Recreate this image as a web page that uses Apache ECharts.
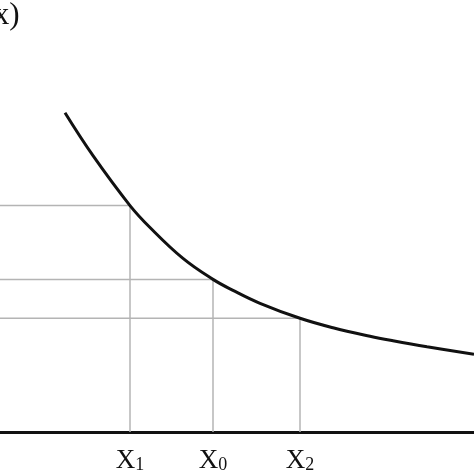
<!DOCTYPE html>
<html>
<head>
<meta charset="utf-8">
<script src="https://cdn.jsdelivr.net/npm/echarts@6/dist/echarts.min.js"></script>
<style>html,body{margin:0;padding:0;background:#fff;}#c{width:474px;height:474px;}</style>
</head>
<body>
<div id="c"></div>
<script>
const curveX = [65, 93, 130, 150, 183, 213, 233, 260, 300, 333, 370, 393, 427, 474];
const curveY = [320, 277, 227, 205, 174, 153, 142, 129, 114, 104.5, 96, 91.5, 85.5, 78];
const markX = [130, 213, 300];
const markY = [227, 153, 114];
const markSub = ['1', '0', '2'];
const axisTitle = 'f(x)';

const chart = echarts.init(document.getElementById('c'), null, {renderer: 'canvas'});
const subOf = {};
markX.forEach((x, i) => { subOf[x] = markSub[i]; });

const series = [];
markX.forEach((x, i) => {
  series.push({
    type: 'line',
    data: [[0, markY[i]], [x, markY[i]], [x, 0]],
    symbol: 'none',
    lineStyle: {color: '#b4b4b4', width: 1.5},
    z: 1,
    silent: true
  });
});
series.push({
  type: 'line',
  data: curveX.map((x, i) => [x, curveY[i]]),
  smooth: 0.4,
  symbol: 'none',
  lineStyle: {color: '#111', width: 3},
  z: 3
});

chart.setOption({
  animation: false,
  backgroundColor: '#fff',
  grid: {left: 0, right: 0, top: 33, bottom: 41},
  xAxis: {
    type: 'value', min: 0, max: 474,
    splitLine: {show: false},
    axisTick: {show: false},
    axisLine: {lineStyle: {color: '#111', width: 3}},
    axisLabel: {
      customValues: markX,
      margin: 15,
      formatter: v => '{b|X}{s|' + (subOf[v] || '') + '}',
      rich: {
        b: {fontFamily: 'Liberation Serif', fontSize: 27, color: '#111', lineHeight: 27, verticalAlign: 'bottom'},
        s: {fontFamily: 'Liberation Serif', fontSize: 18, color: '#111', lineHeight: 27, verticalAlign: 'bottom'}
      }
    }
  },
  yAxis: {type: 'value', min: 0, max: 400, show: false},
  graphic: [{
    type: 'text', left: -27, top: 0,
    style: {text: axisTitle, fontFamily: 'Liberation Serif', fontSize: 31, fill: '#111'}
  }],
  series: series
});
</script>
</body>
</html>
